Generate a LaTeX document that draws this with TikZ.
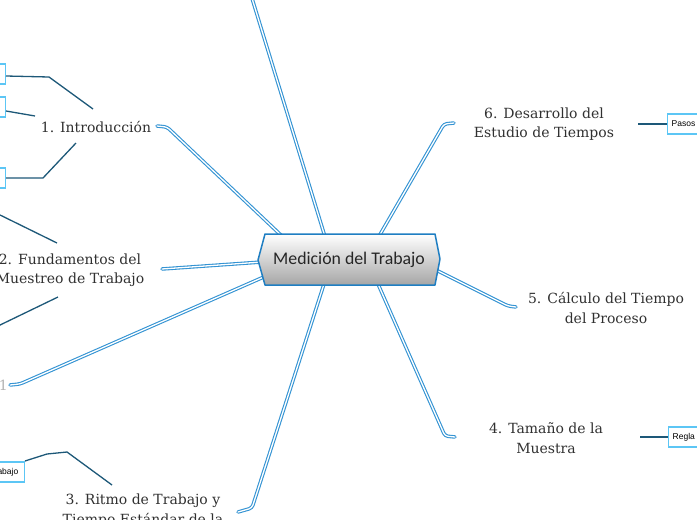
\documentclass[tikz,border=0pt]{standalone}
\usepackage{fontspec}
\setmainfont{DejaVu Serif}
\newfontfamily\titlefont{Carlito}
\newfontfamily\boxfont{Liberation Sans}
\definecolor{branchblue}{HTML}{3393D3}
\definecolor{subline}{HTML}{1D5878}
\definecolor{boxblue}{HTML}{5CC6F5}
\definecolor{rootblue}{HTML}{1F7EC2}
\definecolor{labelgray}{HTML}{303030}
\begin{document}
\begin{tikzpicture}[x=1pt,y=-1pt,
  branch/.style={draw=branchblue, line width=1.1pt, double=white, double distance=1.3pt, rounded corners=3pt, line cap=round},
  subl/.style={draw=subline, line width=1.3pt},
  label/.style={font=\fontsize{14}{19.5}\selectfont, text=labelgray, align=center, inner sep=0pt},
  leaf/.style={draw=boxblue, line width=1.4pt, fill=white, font=\boxfont\fontsize{8.5}{10}\selectfont, text=black, inner xsep=4pt, inner ysep=3pt, minimum height=20pt},
  emptyleaf/.style={draw=boxblue, line width=1.4pt, fill=white, minimum width=40pt, minimum height=20pt, inner sep=0pt},
]
\useasboundingbox (0,0) rectangle (697,520);
\clip (0,0) rectangle (697,520);

% anchor points on the central topic
\coordinate (sTop) at (326,240);
\coordinate (sIntro) at (284,238);
\coordinate (sFund) at (262,262);
\coordinate (sOne) at (266,276);
\coordinate (sRitmo) at (324,284);
\coordinate (sDes) at (378,238);
\coordinate (sCalc) at (436,270);
\coordinate (sTam) at (378,284);

% labels
\node[label] (intro) at (96,127) {1. Introducción};
\node[label] (fund) at (70,270) {2. Fundamentos del\\Muestreo de Trabajo};
\node[label, anchor=east, text=gray!60] (one) at (8,385) {1};
\node[label, anchor=north] (ritmo) at (143,494) {3. Ritmo de Trabajo y\\Tiempo Estándar de la};
\node[label] (des) at (544,124) {6. Desarrollo del\\Estudio de Tiempos};
\node[label] (calc) at (606,308) {5. Cálculo del Tiempo\\del Proceso};
\node[label] (tam) at (546,438) {4. Tamaño de la\\Muestra};

% branch end points
\coordinate (eTop) at (251,-5);
\coordinate (bIntro) at (167,127); \coordinate (eIntro) at (157,126);
\coordinate (eFund) at (162,269);
\coordinate (bOne) at (20,384); \coordinate (eOne) at (10,385);
\coordinate (bRitmo) at (252,508); \coordinate (eRitmo) at (238,512);
\coordinate (bDes) at (444,124); \coordinate (eDes) at (454,123);
\coordinate (bCalc) at (508,306); \coordinate (eCalc) at (516,307);
\coordinate (bTam) at (445,436); \coordinate (eTam) at (455,437);

\draw[branch] (sTop) -- (eTop);
\draw[branch] (sIntro) -- (bIntro) -- (eIntro);
\draw[branch] (sFund) -- (eFund);
\draw[branch] (sOne) -- (bOne) -- (eOne);
\draw[branch] (sRitmo) -- (bRitmo) -- (eRitmo);
\draw[branch] (sDes) -- (bDes) -- (eDes);
\draw[branch] (sCalc) -- (bCalc) -- (eCalc);
\draw[branch] (sTam) -- (bTam) -- (eTam);

% central topic
\node[inner sep=0pt, minimum width=182pt, minimum height=52pt] (root) at (349,260) {};
\shade[top color=white, bottom color=black!35, draw=rootblue, line width=1.5pt, line join=round]
  (265,234) -- (435,234) -- (440,259) -- (435,285) -- (265,285) -- (258,260) -- cycle;
\node[font=\titlefont\fontsize{17.8}{20}\selectfont, text=black!85] at (root.center) {Medición del Trabajo};

% leaf boxes
\node[emptyleaf, anchor=east] (i1) at (6,74) {};
\node[emptyleaf, anchor=east] (i2) at (6,107) {};
\node[emptyleaf, anchor=east] (i3) at (6,178) {};
\node[leaf, anchor=east, inner xsep=6pt] (r1) at (25,472) {Trabajo};
\node[leaf, anchor=west, text width=48pt, align=left] (p1) at (667,124) {Pasos};
\node[leaf, anchor=west, text width=48pt, align=left] (g1) at (668,437) {Regla};

% sub-topic connectors
\coordinate (ci1) at (93,109); \coordinate (ki1) at (49,77);
\coordinate (ci2) at (35,116);
\coordinate (ci3) at (76,143); \coordinate (ki3) at (43,178);
\coordinate (cf1) at (57,243); \coordinate (ef1) at (-2,214);
\coordinate (cf2) at (58,297); \coordinate (ef2) at (-2,326);
\coordinate (cr1) at (112,485); \coordinate (kr1) at (67,452); \coordinate (kr2) at (47,454);
\coordinate (cp1) at (638,124);
\coordinate (cg1) at (640,437);

\draw[subl] (ci1) -- (ki1) -- (i1.east |- 0,76);
\draw[subl] (ci2) -- (i2.east |- 0,111);
\draw[subl] (ci3) -- (ki3) -- (i3.east);
\draw[subl] (cf1) -- (ef1);
\draw[subl] (cf2) -- (ef2);
\draw[subl] (cr1) -- (kr1) -- (kr2) -- (r1.north east |- 0,461);
\draw[subl] (cp1) -- (p1.west);
\draw[subl] (cg1) -- (g1.west);
\end{tikzpicture}
\end{document}
